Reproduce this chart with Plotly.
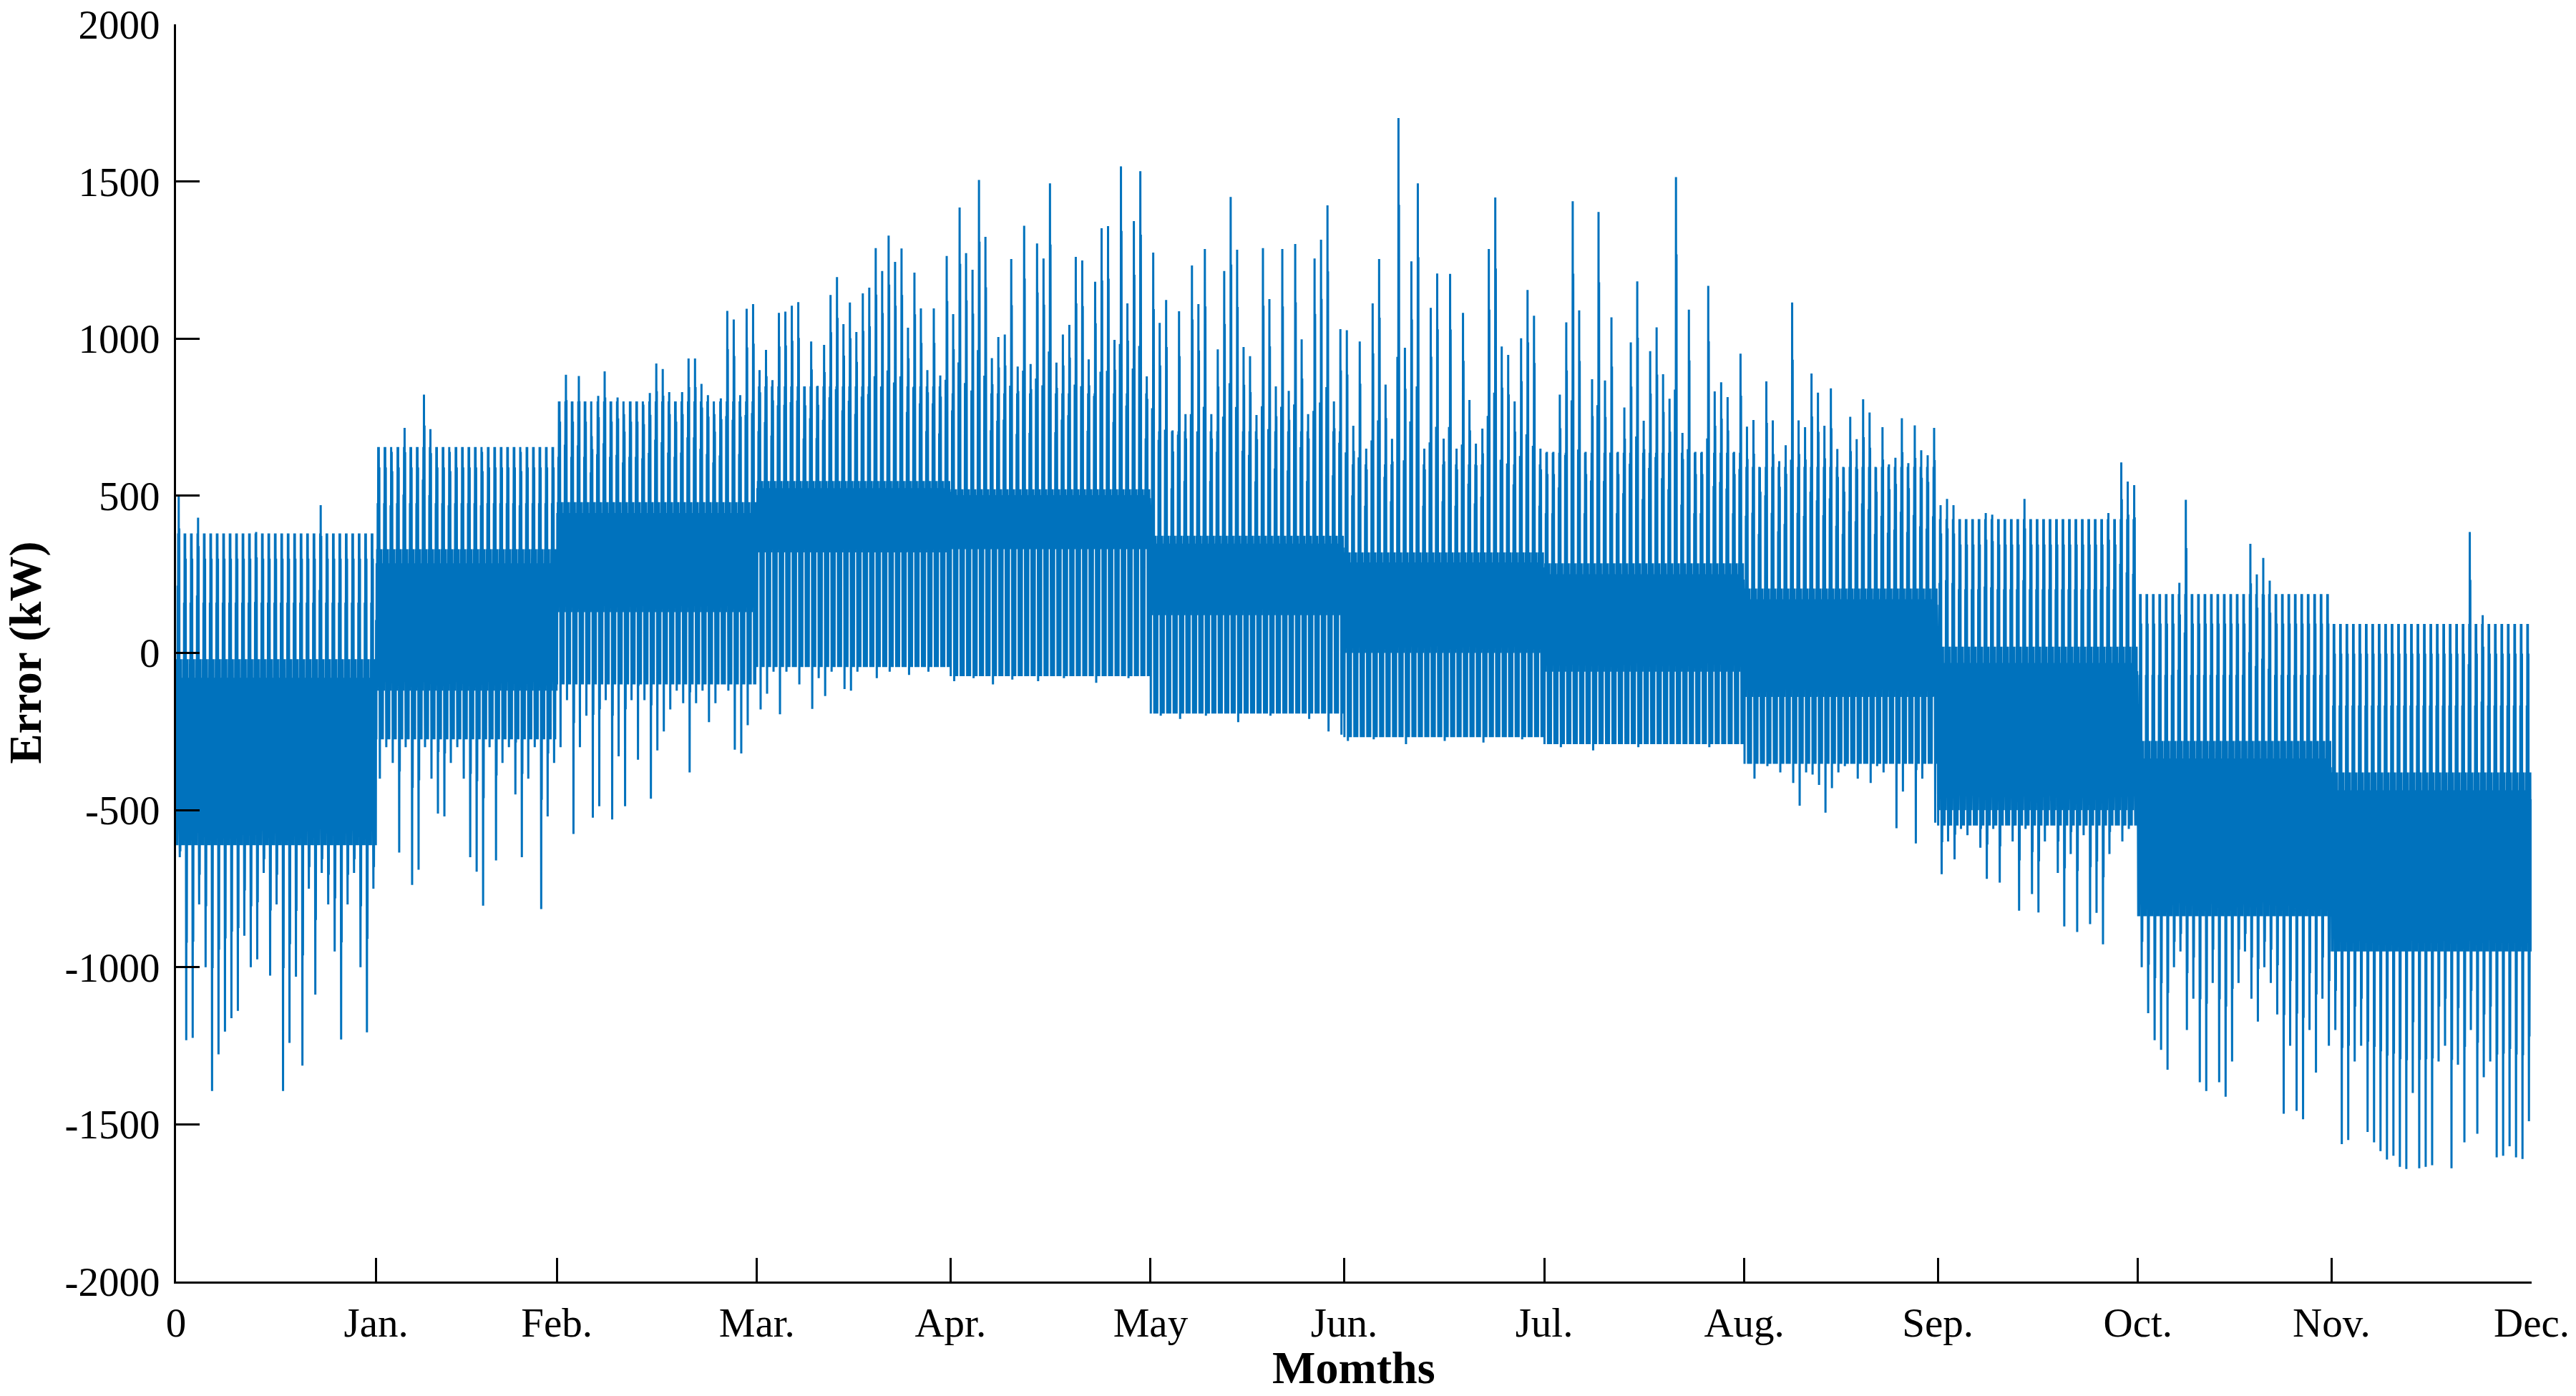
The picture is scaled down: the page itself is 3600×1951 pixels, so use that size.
import numpy as np
import plotly.graph_objects as go

# ---------------- data ----------------
MONTH_DAYS = [31, 28, 31, 30, 31, 30, 31, 31, 30, 31, 30, 31]
TICK_TEXT = ['0', 'Jan.', 'Feb.', 'Mar.', 'Apr.', 'May', 'Jun.', 'Jul.', 'Aug.',
             'Sep.', 'Oct.', 'Nov.', 'Dec.']
Y_TICKS = [-2000, -1500, -1000, -500, 0, 500, 1000, 1500, 2000]
X_TITLE = 'Momths'
Y_TITLE = 'Error (kW)'

# monthly levels (kW): flat upper cap, flat lower cap, dense core band top / bottom
CAP_TOP = [380, 655, 800, 848, 826, 705, 600, 637, 592, 426, 187, 92]
CAP_BOT = [-612, -275, -100, -45, -74, -193, -268, -290, -353, -549, -838, -950]
CORE_HI = [-20, 330, 480, 547, 521, 373, 320, 285, 205, 20, -280, -380]
CORE_LO = [-612, -120, 130, 320, 330, 120, 0, -60, -140, -500, -838, -950]

# daily extreme values (kW) per month
JAN_MAX = [500, 380, 380, 430, 380, 380, 380, 380, 380, 380, 380, 380, 385, 380, 380, 380,
           380, 380, 380, 380, 380, 380, 470, 380, 380, 380, 380, 380, 380, 380, 380]
JAN_MIN = [-650, -1232, -1225, -800, -1000, -1394, -1277, -1205, -1162, -1139, -900, -1000,
           -975, -700, -1027, -800, -1394, -1241, -1030, -1313, -750, -1087, -700, -800,
           -950, -1230, -800, -700, -1000, -1207, -750]
FEB_MAX = [655, 655, 640, 655, 716, 655, 655, 822, 712, 655, 655, 640, 655, 655,
           655, 655, 640, 655, 655, 655, 655, 655, 640, 655, 655, 655, 655, 655]
FEB_MIN = [-400, -300, -350, -635, -300, -738, -690, -300, -400, -511, -520, -350, -300, -400,
           -650, -696, -804, -300, -660, -350, -300, -450, -650, -400, -300, -815, -520, -350]
MAR_MAX = [800, 885, 800, 881, 800, 690, 818, 896, 800, 813, 760, 800, 800, 790, 827, 921,
           903, 830, 800, 830, 937, 937, 856, 820, 760, 810, 1088, 1061, 820, 1095, 1110]
MAR_MIN = [-300, -150, -576, -300, -200, -524, -488, -150, -530, -329, -488, -150, -340, -150,
           -464, -310, -250, -180, -120, -160, -380, -160, -120, -220, -160, -100, -120, -308,
           -320, -230, -100]
APR_MAX = [900, 964, 868, 1082, 1086, 1105, 1116, 848, 991, 850, 980, 1139, 1196, 1046, 1115,
           1021, 1144, 1162, 1288, 1215, 1328, 1244, 1287, 1035, 1210, 1096, 900, 1096, 883, 1263]
APR_MIN = [-180, -130, -60, -195, -60, -45, -100, -45, -178, -80, -137, -60, -45, -115, -120,
           -60, -45, -45, -80, -45, -60, -45, -45, -70, -45, -45, -60, -45, -45, -45]
MAY_MAX = [1078, 1417, 1272, 1219, 1505, 1324, 938, 1005, 1013, 1253, 911, 1359, 919, 1303,
           1255, 1494, 924, 1013, 1044, 1260, 1249, 934, 1181, 1351, 1358, 996, 1548, 1112,
           1374, 1533, 880]
MAY_MIN = [-90, -74, -74, -80, -74, -74, -100, -74, -74, -85, -74, -74, -74, -90, -74, -74,
           -74, -80, -74, -74, -74, -74, -95, -74, -74, -74, -74, -80, -74, -74, -74]
JUN_MAX = [1274, 1050, 1123, 708, 1087, 760, 1233, 1110, 1285, 760, 966, 1215, 1451, 1283,
           973, 944, 757, 1288, 1126, 848, 1285, 834, 1301, 998, 760, 1255, 1315, 1424, 800, 1030]
JUN_MIN = [-193, -200, -193, -193, -210, -193, -193, -193, -200, -193, -193, -193, -193, -220,
           -193, -193, -193, -193, -200, -193, -193, -193, -193, -193, -210, -193, -193, -250,
           -193, -260]
JUL_MAX = [1027, 723, 991, 650, 1112, 1253, 854, 681, 1702, 971, 1246, 1494, 650, 1098, 1207,
           682, 1206, 650, 1082, 805, 666, 714, 1285, 1449, 975, 948, 800, 1001, 1155, 1073, 650]
JUL_MIN = [-280, -268, -268, -268, -275, -268, -268, -268, -268, -290, -268, -268, -268, -268,
           -268, -280, -268, -268, -268, -268, -268, -285, -268, -268, -268, -268, -268, -275,
           -268, -268, -268]
AUG_MAX = [640, 640, 822, 1052, 1437, 1090, 640, 871, 1403, 867, 1068, 640, 781, 988, 1182,
           739, 960, 1036, 887, 809, 1514, 700, 1092, 640, 640, 1168, 832, 861, 814, 640, 952]
AUG_MIN = [-290, -290, -300, -290, -290, -290, -290, -310, -290, -290, -290, -290, -290, -290,
           -300, -290, -290, -290, -290, -290, -290, -290, -290, -290, -290, -300, -290, -290,
           -290, -290, -290]
SEP_MAX = [720, 741, 590, 864, 740, 610, 661, 1115, 740, 718, 889, 828, 723, 842, 649, 590,
           751, 680, 807, 765, 590, 718, 600, 621, 747, 604, 724, 645, 629, 716]
SEP_MIN = [-353, -400, -353, -360, -353, -380, -353, -414, -486, -380, -387, -420, -508, -430,
           -380, -360, -353, -400, -353, -414, -360, -380, -353, -558, -441, -353, -606, -400,
           -353, -540]
OCT_MAX = [470, 490, 470, 426, 426, 426, 426, 445, 440, 426, 426, 426, 426, 490, 426, 426,
           426, 426, 426, 426, 426, 426, 426, 426, 426, 426, 445, 426, 606, 545, 534]
OCT_MIN = [-704, -600, -657, -560, -580, -549, -620, -719, -560, -731, -549, -600, -820, -560,
           -767, -826, -600, -549, -700, -870, -640, -888, -580, -863, -827, -927, -640, -549,
           -600, -560, -549]
NOV_MAX = [187, 187, 187, 187, 187, 187, 223, 487, 187, 187, 187, 187, 187, 187, 187, 187,
           187, 347, 250, 302, 230, 187, 187, 187, 187, 187, 187, 187, 187, 187]
NOV_MIN = [-1000, -1146, -1232, -1263, -1326, -1000, -950, -1200, -1100, -1366, -1394, -1050,
           -1366, -1412, -1300, -1050, -950, -1100, -1173, -1000, -1050, -1150, -1466, -1250,
           -1457, -1484, -1200, -1335, -1100, -1250]
DEC_MAX = [92, 92, 92, 92, 92, 92, 92, 92, 92, 92, 92, 92, 92, 92, 92, 92, 92, 92, 92, 92,
           92, 385, 92, 120, 92, 92, 92, 92, 92, 92, 92]
DEC_MIN = [-1200, -1563, -1550, -1300, -1250, -1524, -1557, -1585, -1612, -1600, -1635, -1642,
           -1400, -1640, -1635, -1630, -1300, -1250, -1640, -1310, -1557, -1200, -1530, -1350,
           -1300, -1605, -1600, -1570, -1605, -1610, -1490]

# shape of one day (24 hourly samples): which level each hour sits on
HOUR_ROLE = ['c', 'B', 'c', 'c', 'c', 'c', 'u', 'c', 'T', 'c', 'M', 'c',
             'u', 'c', 'N', 'c', 'd', 'c', 'B', 'c', 'c', 'c', 'c', 'c']
HOUR_FRAC = [0.5, 0.0, 0.9, 0.2, 1.0, 0.0, 0.45, 0.6, 0.0, 0.3, 0.0, 0.7,
             0.8, 0.1, 0.0, 0.8, 0.5, 0.4, 0.0, 1.0, 0.2, 0.85, 0.6, 0.0]

# ---------------- build hourly series ----------------
DAY_MAX = [JAN_MAX, FEB_MAX, MAR_MAX, APR_MAX, MAY_MAX, JUN_MAX,
           JUL_MAX, AUG_MAX, SEP_MAX, OCT_MAX, NOV_MAX, DEC_MAX]
DAY_MIN = [JAN_MIN, FEB_MIN, MAR_MIN, APR_MIN, MAY_MIN, JUN_MIN,
           JUL_MIN, AUG_MIN, SEP_MIN, OCT_MIN, NOV_MIN, DEC_MIN]

y = []
for m in range(12):
    hi, lo = CORE_HI[m], CORE_LO[m]
    for d in range(MONTH_DAYS[m]):
        mx, mn = DAY_MAX[m][d], DAY_MIN[m][d]
        for role, f in zip(HOUR_ROLE, HOUR_FRAC):
            if role == 'c':
                v = lo + f * (hi - lo)
            elif role == 'B':
                v = CAP_BOT[m]
            elif role == 'T':
                v = CAP_TOP[m]
            elif role == 'M':
                v = mx
            elif role == 'N':
                v = mn
            elif role == 'u':
                v = hi + f * (mx - hi)
            else:
                v = lo + f * (mn - lo)
            y.append(v)
y = np.array(y)
x = np.arange(len(y))

month_end_hours = [0] + list(np.cumsum(MONTH_DAYS) * 24)

FONT = 'Liberation Serif'
fig = go.Figure()
fig.add_trace(go.Scatter(x=x, y=y, mode='lines',
                         line=dict(color='#0072BD', width=3, simplify=False),
                         hoverinfo='skip', showlegend=False))

fig.update_layout(
    width=3600, height=1951,
    margin=dict(l=246, r=62, t=34, b=160, autoexpand=False),
    paper_bgcolor='white', plot_bgcolor='white',
    font=dict(family=FONT, color='black', size=57),
    showlegend=False,
)
axis_common = dict(
    automargin=False,
    ticks='inside', ticklen=33, tickwidth=2.5, tickcolor='black',
    ticklabeloverflow='allow',
    showline=True, linecolor='black', linewidth=3,
    showgrid=False, zeroline=False,
    tickfont=dict(family=FONT, size=57, color='black'),
)
fig.update_xaxes(range=[0, month_end_hours[-1]], tickvals=month_end_hours,
                 ticktext=TICK_TEXT, ticklabelstandoff=6, **axis_common)
fig.update_yaxes(range=[-2000, 2000], tickvals=Y_TICKS,
                 ticktext=[str(v) for v in Y_TICKS], ticklabelstandoff=8, **axis_common)

# axis titles placed as text relative to the plot area
fig.add_annotation(text='<b>' + X_TITLE + '</b>', xref='paper', yref='paper',
                   x=0.5, y=0, xanchor='center', yanchor='bottom', yshift=-157,
                   borderpad=0, showarrow=False,
                   font=dict(family=FONT, size=64, color='black'))
fig.add_annotation(text='<b>' + Y_TITLE + '</b>', xref='paper', yref='paper',
                   x=0, y=0.5, xanchor='center', yanchor='middle', xshift=-211,
                   textangle=-90, showarrow=False,
                   font=dict(family=FONT, size=63, color='black'))

fig.write_html('out.html', config={'displayModeBar': False},
               post_script="document.body.style.margin='0px';")
